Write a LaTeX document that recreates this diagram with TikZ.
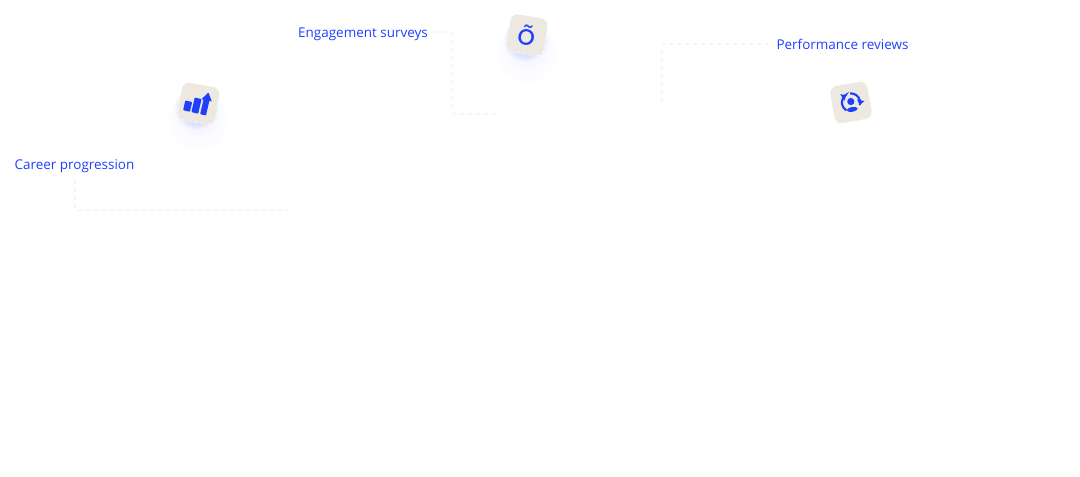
\documentclass[tikz,border=0pt]{standalone}
\usepackage{fontspec}
\setmainfont{Open Sans}
\newfontfamily\iconfont{Poppins}
\usepackage{tikz}
\usetikzlibrary{arrows.meta}
\definecolor{iconblue}{HTML}{1F3FFF}
\definecolor{iconbox}{HTML}{EDE8E0}
\definecolor{linkcol}{HTML}{F4F1EC}
\tikzset{
	label/.style={text=iconblue,font=\fontsize{10.1}{12}\selectfont,inner sep=0pt,outer sep=5.5pt,anchor=base},
	iconnode/.style={fill=iconbox,draw=white,densely dashed,line width=.35pt,rounded corners=5.5pt,minimum size=28.5pt,inner sep=0pt},
	link/.style={draw=linkcol,dashed,line width=.8pt,rounded corners=2pt},
	glow/.style={fill=iconblue,opacity=.006},
	curlarrow/.style={iconblue,line width=1.6pt,-{Triangle[length=3.5pt,width=5.5pt]}}
}
\begin{document}
\begin{tikzpicture}[x=.75pt,y=-.75pt]
	\useasboundingbox(0,0)rectangle(1080,476);
	% glow under the two tilted boxes
	\foreach \cx/\cy in {198/103,527/35}{
		\foreach \r in {12,15,18,21,24,27,30}
			\fill[glow](\cx,\cy+\r*.6)circle(\r);
		\foreach \r in {17,18,19,20,21,22}
			\fill[iconblue,opacity=.018](\cx-1,\cy+5)circle(\r);
	}
	% boxes
	\node[iconnode,rotate=-10](career)at(198.5,103.5){};
	\node[iconnode,rotate=-10,text=iconblue,font=\iconfont\fontsize{21}{21}\selectfont](engage)at(527,35){õ};
	\node[iconnode,rotate=10](perf)at(851,102.5){};
	% labels
	\node[label](careerlab)at(74.5,169){Career progression};
	\node[label](engagelab)at(363,37){Engagement surveys};
	\node[label](perflab)at(842.5,49){Performance reviews};
	% free ends
	\coordinate(careerend)at(288,210.5);
	\coordinate(engageend)at(495,114);
	\coordinate(perfend)at(662,105);
	% connectors
	\draw[link](careerlab.south-|75,178)--(75,210.5)--(careerend);
	\draw[link](engagelab.east|-452,32)--(452,32)--(452,114)--(engageend);
	\draw[link](perflab.west|-662,44)--(662,44)--(perfend);
	% bars and arrow
	\begin{scope}[shift={(198.5,103.5)},rotate=-13]
		\fill[iconblue,rounded corners=.6pt](-13.5,0)rectangle(-6.5,10);
		\fill[iconblue,rounded corners=.6pt](-5,-5)rectangle(2,10);
		\fill[iconblue,rounded corners=.4pt](4,10)--(4,-5)--(2,-5)--(7.2,-13)--(12.5,-5)--(10,-5)--(10,10)--cycle;
	\end{scope}
	% circle arrows and person
	\begin{scope}[shift={(851,102.5)},rotate=10]
		\fill[iconblue](0,-1)circle(3.6);
		\fill[iconblue](0,7)ellipse(5.5 and 2.4);
		\draw[curlarrow]plot[domain=130:248,samples=20,smooth]({9*cos(\x)},{9*sin(\x)});
		\draw[curlarrow]plot[domain=275:385,samples=20,smooth]({9*cos(\x)},{9*sin(\x)});
	\end{scope}
\end{tikzpicture}
\end{document}
